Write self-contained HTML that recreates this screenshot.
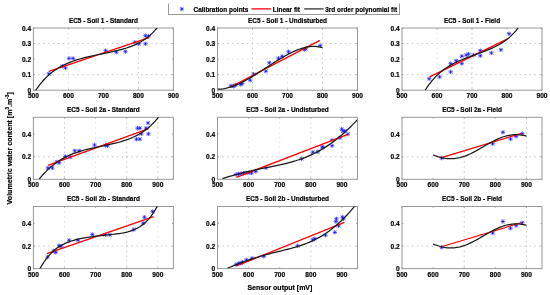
<!DOCTYPE html>
<html><head><meta charset="utf-8"><style>
html,body{margin:0;padding:0;background:#fff;width:550px;height:295px;overflow:hidden}
svg{display:block}
text{font-family:'Liberation Sans',Arial,Helvetica,sans-serif;font-weight:bold;fill:#000;stroke:#000;stroke-width:0.18px}
.tl{font-size:6.6px}
.tt{font-size:6.45px}
.lg{font-size:6.45px}
.al{font-size:7px}
.grid{stroke:#c2c2c2;stroke-width:0.9;stroke-dasharray:1.5 3.4;fill:none}
.gridf{stroke:#e0e0e0;stroke-width:0.9;stroke-dasharray:1.5 3.4;fill:none}
.tick{stroke:#999;stroke-width:0.8}
.box{fill:none;stroke:#999;stroke-width:1}
.bl{fill:none;stroke:#1a1a1a;stroke-width:1.25;stroke-linejoin:round}
.rd{fill:none;stroke:#f00;stroke-width:1.25}
.st{stroke:#33f;stroke-width:0.75;fill:none}
</style></head><body>
<svg width="550" height="295" viewBox="0 0 550 295">
<defs>
<g id="st"><path class="st" d="M-2.2,0H2.2M0,-2.2V2.2M-1.7,-1.7L1.7,1.7M-1.7,1.7L1.7,-1.7"/><circle r="0.7" fill="#11f"/></g>
<clipPath id="c00"><rect x="33.4" y="28" width="140" height="62.2"/></clipPath><clipPath id="c01"><rect x="217.5" y="28" width="140" height="62.2"/></clipPath><clipPath id="c02"><rect x="402" y="28" width="140" height="62.2"/></clipPath><clipPath id="c10"><rect x="33.4" y="117.3" width="140" height="62"/></clipPath><clipPath id="c11"><rect x="217.5" y="117.3" width="140" height="62"/></clipPath><clipPath id="c12"><rect x="402" y="117.3" width="140" height="62"/></clipPath><clipPath id="c20"><rect x="33.4" y="206.5" width="140" height="62.1"/></clipPath><clipPath id="c21"><rect x="217.5" y="206.5" width="140" height="62.1"/></clipPath><clipPath id="c22"><rect x="402" y="206.5" width="140" height="62.1"/></clipPath>
</defs>
<rect width="550" height="295" fill="#fff"/>

<g>
<line x1="168.5" y1="3.6" x2="168.5" y2="15" stroke="#999" stroke-width="1"/>
<line x1="399.5" y1="3.6" x2="399.5" y2="15" stroke="#999" stroke-width="1"/>
<line x1="168" y1="14.5" x2="400" y2="14.5" stroke="#999" stroke-width="1"/>
<use href="#st" x="181.8" y="9"/>
<text x="193.6" y="11.7" class="lg">Calibration points</text>
<line x1="251.5" y1="8.9" x2="270.8" y2="8.9" class="rd" style="stroke-width:1.3"/>
<text x="272.8" y="11.7" class="lg">Linear fit</text>
<line x1="304.2" y1="8.9" x2="323.5" y2="8.9" class="bl" style="stroke-width:1.3;stroke:#333"/>
<text x="325.2" y="11.7" class="lg">3rd order polynomial fit</text>
</g>
<line x1="68.4" y1="28" x2="68.4" y2="90.2" class="gridf"/>
<line x1="138.4" y1="28" x2="138.4" y2="90.2" class="grid"/>
<line x1="33.4" y1="74.65" x2="173.4" y2="74.65" class="grid"/>
<line x1="33.4" y1="43.55" x2="173.4" y2="43.55" class="grid"/>
<line x1="33.4" y1="90.2" x2="33.4" y2="88.8" class="tick"/>
<line x1="33.4" y1="28" x2="33.4" y2="29.4" class="tick"/>
<line x1="68.4" y1="90.2" x2="68.4" y2="88.8" class="tick"/>
<line x1="68.4" y1="28" x2="68.4" y2="29.4" class="tick"/>
<line x1="103.4" y1="90.2" x2="103.4" y2="88.8" class="tick"/>
<line x1="103.4" y1="28" x2="103.4" y2="29.4" class="tick"/>
<line x1="138.4" y1="90.2" x2="138.4" y2="88.8" class="tick"/>
<line x1="138.4" y1="28" x2="138.4" y2="29.4" class="tick"/>
<line x1="173.4" y1="90.2" x2="173.4" y2="88.8" class="tick"/>
<line x1="173.4" y1="28" x2="173.4" y2="29.4" class="tick"/>
<line x1="33.4" y1="90.2" x2="34.8" y2="90.2" class="tick"/>
<line x1="173.4" y1="90.2" x2="172" y2="90.2" class="tick"/>
<line x1="33.4" y1="74.65" x2="34.8" y2="74.65" class="tick"/>
<line x1="173.4" y1="74.65" x2="172" y2="74.65" class="tick"/>
<line x1="33.4" y1="59.1" x2="34.8" y2="59.1" class="tick"/>
<line x1="173.4" y1="59.1" x2="172" y2="59.1" class="tick"/>
<line x1="33.4" y1="43.55" x2="34.8" y2="43.55" class="tick"/>
<line x1="173.4" y1="43.55" x2="172" y2="43.55" class="tick"/>
<line x1="33.4" y1="28" x2="34.8" y2="28" class="tick"/>
<line x1="173.4" y1="28" x2="172" y2="28" class="tick"/>
<rect x="33.4" y="28" width="140" height="62.2" class="box"/>
<g clip-path="url(#c00)">
<use href="#st" x="48.8" y="73.8"/>
<use href="#st" x="62.5" y="66.1"/>
<use href="#st" x="65.4" y="67.9"/>
<use href="#st" x="69" y="58.4"/>
<use href="#st" x="73.1" y="58.4"/>
<use href="#st" x="105.6" y="50.7"/>
<use href="#st" x="116.3" y="52.2"/>
<use href="#st" x="125.4" y="51.6"/>
<use href="#st" x="134.8" y="42.3"/>
<use href="#st" x="138.8" y="43.8"/>
<use href="#st" x="145.4" y="43.8"/>
<use href="#st" x="145.4" y="35.7"/>
<use href="#st" x="148.5" y="36.2"/>
<line x1="48.8" y1="71.4" x2="149" y2="37.7" class="rd"/>
<polyline points="35.3,90.94 37.64,87.5 39.98,84.38 42.32,81.54 44.66,78.96 47,76.62 49.34,74.49 51.68,72.56 54.03,70.8 56.37,69.2 58.71,67.74 61.05,66.41 63.39,65.19 65.73,64.08 68.07,63.05 70.41,62.11 72.75,61.24 75.09,60.43 77.43,59.68 79.77,58.98 82.11,58.32 84.45,57.7 86.79,57.11 89.14,56.55 91.48,56.02 93.82,55.5 96.16,55 98.5,54.51 100.84,54.03 103.18,53.55 105.52,53.08 107.86,52.6 110.2,52.11 112.54,51.6 114.88,51.08 117.22,50.54 119.56,49.96 121.91,49.35 124.25,48.69 126.59,47.98 128.93,47.2 131.27,46.35 133.61,45.42 135.95,44.38 138.29,43.24 140.63,41.97 142.97,40.55 145.31,38.98 147.65,37.23 149.99,35.27 152.33,33.09 154.67,30.67 157.02,27.97 159.36,24.97 161.7,21.64 164.04,17.95 166.38,13.86 168.72,9.34 171.06,4.35 173.4,-1.15" class="bl"/>
</g>
<text x="33.4" y="98.2" class="tl" text-anchor="middle">500</text>
<text x="68.4" y="98.2" class="tl" text-anchor="middle">600</text>
<text x="103.4" y="98.2" class="tl" text-anchor="middle">700</text>
<text x="138.4" y="98.2" class="tl" text-anchor="middle">800</text>
<text x="173.4" y="98.2" class="tl" text-anchor="middle">900</text>
<text x="31.1" y="92.8" class="tl" text-anchor="end">0</text>
<text x="31.1" y="77.25" class="tl" text-anchor="end">0.1</text>
<text x="31.1" y="61.7" class="tl" text-anchor="end">0.2</text>
<text x="31.1" y="46.15" class="tl" text-anchor="end">0.3</text>
<text x="31.1" y="30.6" class="tl" text-anchor="end">0.4</text>
<text x="103.4" y="23.2" class="tt" text-anchor="middle">EC5 - Soil 1 - Standard</text><line x1="252.5" y1="28" x2="252.5" y2="90.2" class="grid"/>
<line x1="287.5" y1="28" x2="287.5" y2="90.2" class="gridf"/>
<line x1="322.5" y1="28" x2="322.5" y2="90.2" class="grid"/>
<line x1="217.5" y1="74.65" x2="357.5" y2="74.65" class="grid"/>
<line x1="217.5" y1="59.1" x2="357.5" y2="59.1" class="gridf"/>
<line x1="217.5" y1="43.55" x2="357.5" y2="43.55" class="grid"/>
<line x1="217.5" y1="90.2" x2="217.5" y2="88.8" class="tick"/>
<line x1="217.5" y1="28" x2="217.5" y2="29.4" class="tick"/>
<line x1="252.5" y1="90.2" x2="252.5" y2="88.8" class="tick"/>
<line x1="252.5" y1="28" x2="252.5" y2="29.4" class="tick"/>
<line x1="287.5" y1="90.2" x2="287.5" y2="88.8" class="tick"/>
<line x1="287.5" y1="28" x2="287.5" y2="29.4" class="tick"/>
<line x1="322.5" y1="90.2" x2="322.5" y2="88.8" class="tick"/>
<line x1="322.5" y1="28" x2="322.5" y2="29.4" class="tick"/>
<line x1="357.5" y1="90.2" x2="357.5" y2="88.8" class="tick"/>
<line x1="357.5" y1="28" x2="357.5" y2="29.4" class="tick"/>
<line x1="217.5" y1="90.2" x2="218.9" y2="90.2" class="tick"/>
<line x1="357.5" y1="90.2" x2="356.1" y2="90.2" class="tick"/>
<line x1="217.5" y1="74.65" x2="218.9" y2="74.65" class="tick"/>
<line x1="357.5" y1="74.65" x2="356.1" y2="74.65" class="tick"/>
<line x1="217.5" y1="59.1" x2="218.9" y2="59.1" class="tick"/>
<line x1="357.5" y1="59.1" x2="356.1" y2="59.1" class="tick"/>
<line x1="217.5" y1="43.55" x2="218.9" y2="43.55" class="tick"/>
<line x1="357.5" y1="43.55" x2="356.1" y2="43.55" class="tick"/>
<line x1="217.5" y1="28" x2="218.9" y2="28" class="tick"/>
<line x1="357.5" y1="28" x2="356.1" y2="28" class="tick"/>
<rect x="217.5" y="28" width="140" height="62.2" class="box"/>
<g clip-path="url(#c01)">
<use href="#st" x="231" y="85.8"/>
<use href="#st" x="233.6" y="86.3"/>
<use href="#st" x="235.4" y="85"/>
<use href="#st" x="240.7" y="84.5"/>
<use href="#st" x="242" y="83.6"/>
<use href="#st" x="250.2" y="80.2"/>
<use href="#st" x="253.6" y="74.1"/>
<use href="#st" x="265.9" y="71.2"/>
<use href="#st" x="269.3" y="62.75"/>
<use href="#st" x="278.5" y="58.2"/>
<use href="#st" x="282.2" y="56.3"/>
<use href="#st" x="288.5" y="51.8"/>
<use href="#st" x="304.4" y="49.6"/>
<use href="#st" x="305.7" y="48.7"/>
<use href="#st" x="320.2" y="45.7"/>
<line x1="230.5" y1="87.1" x2="319.8" y2="40.4" class="rd"/>
<polyline points="217.5,89.15 219.28,89.12 221.06,89.01 222.83,88.81 224.61,88.52 226.39,88.16 228.17,87.72 229.95,87.22 231.72,86.65 233.5,86.02 235.28,85.33 237.06,84.58 238.84,83.79 240.61,82.95 242.39,82.07 244.17,81.15 245.95,80.2 247.73,79.2 249.5,78.18 251.28,77.14 253.06,76.07 254.84,74.97 256.62,73.86 258.39,72.74 260.17,71.6 261.95,70.45 263.73,69.3 265.51,68.14 267.28,66.98 269.06,65.82 270.84,64.67 272.62,63.52 274.39,62.38 276.17,61.26 277.95,60.15 279.73,59.06 281.51,57.99 283.28,56.95 285.06,55.93 286.84,54.95 288.62,54 290.4,53.09 292.17,52.22 293.95,51.39 295.73,50.62 297.51,49.89 299.29,49.22 301.06,48.62 302.84,48.07 304.62,47.6 306.4,47.2 308.18,46.87 309.95,46.63 311.73,46.48 313.51,46.42 315.29,46.46 317.07,46.61 318.84,46.86 320.62,47.23 322.4,47.72" class="bl"/>
</g>
<text x="217.5" y="98.2" class="tl" text-anchor="middle">500</text>
<text x="252.5" y="98.2" class="tl" text-anchor="middle">600</text>
<text x="287.5" y="98.2" class="tl" text-anchor="middle">700</text>
<text x="322.5" y="98.2" class="tl" text-anchor="middle">800</text>
<text x="357.5" y="98.2" class="tl" text-anchor="middle">900</text>
<text x="215.2" y="92.8" class="tl" text-anchor="end">0</text>
<text x="215.2" y="77.25" class="tl" text-anchor="end">0.1</text>
<text x="215.2" y="61.7" class="tl" text-anchor="end">0.2</text>
<text x="215.2" y="46.15" class="tl" text-anchor="end">0.3</text>
<text x="215.2" y="30.6" class="tl" text-anchor="end">0.4</text>
<text x="287.5" y="23.2" class="tt" text-anchor="middle">EC5 - Soil 1 - Undisturbed</text><line x1="437" y1="28" x2="437" y2="90.2" class="gridf"/>
<line x1="472" y1="28" x2="472" y2="90.2" class="grid"/>
<line x1="402" y1="74.65" x2="542" y2="74.65" class="grid"/>
<line x1="402" y1="43.55" x2="542" y2="43.55" class="grid"/>
<line x1="402" y1="90.2" x2="402" y2="88.8" class="tick"/>
<line x1="402" y1="28" x2="402" y2="29.4" class="tick"/>
<line x1="437" y1="90.2" x2="437" y2="88.8" class="tick"/>
<line x1="437" y1="28" x2="437" y2="29.4" class="tick"/>
<line x1="472" y1="90.2" x2="472" y2="88.8" class="tick"/>
<line x1="472" y1="28" x2="472" y2="29.4" class="tick"/>
<line x1="507" y1="90.2" x2="507" y2="88.8" class="tick"/>
<line x1="507" y1="28" x2="507" y2="29.4" class="tick"/>
<line x1="542" y1="90.2" x2="542" y2="88.8" class="tick"/>
<line x1="542" y1="28" x2="542" y2="29.4" class="tick"/>
<line x1="402" y1="90.2" x2="403.4" y2="90.2" class="tick"/>
<line x1="542" y1="90.2" x2="540.6" y2="90.2" class="tick"/>
<line x1="402" y1="74.65" x2="403.4" y2="74.65" class="tick"/>
<line x1="542" y1="74.65" x2="540.6" y2="74.65" class="tick"/>
<line x1="402" y1="59.1" x2="403.4" y2="59.1" class="tick"/>
<line x1="542" y1="59.1" x2="540.6" y2="59.1" class="tick"/>
<line x1="402" y1="43.55" x2="403.4" y2="43.55" class="tick"/>
<line x1="542" y1="43.55" x2="540.6" y2="43.55" class="tick"/>
<line x1="402" y1="28" x2="403.4" y2="28" class="tick"/>
<line x1="542" y1="28" x2="540.6" y2="28" class="tick"/>
<rect x="402" y="28" width="140" height="62.2" class="box"/>
<g clip-path="url(#c02)">
<use href="#st" x="429.1" y="78.8"/>
<use href="#st" x="439.6" y="76.9"/>
<use href="#st" x="450.6" y="71.9"/>
<use href="#st" x="450.6" y="63.6"/>
<use href="#st" x="456.2" y="60.7"/>
<use href="#st" x="461.8" y="63.6"/>
<use href="#st" x="461.8" y="56.2"/>
<use href="#st" x="466.2" y="55.1"/>
<use href="#st" x="468.5" y="54"/>
<use href="#st" x="473.6" y="55.1"/>
<use href="#st" x="480.3" y="50.6"/>
<use href="#st" x="480.3" y="55.8"/>
<use href="#st" x="491.4" y="52.9"/>
<use href="#st" x="500.9" y="49.8"/>
<use href="#st" x="509" y="33.7"/>
<line x1="429.6" y1="76.9" x2="507.6" y2="38.91" class="rd"/>
<polyline points="425,90.49 426.78,87.72 428.56,85.16 430.34,82.79 432.12,80.59 433.9,78.56 435.68,76.67 437.46,74.92 439.24,73.29 441.02,71.78 442.8,70.37 444.58,69.06 446.36,67.83 448.14,66.68 449.92,65.6 451.69,64.59 453.47,63.63 455.25,62.73 457.03,61.87 458.81,61.05 460.59,60.26 462.37,59.51 464.15,58.79 465.93,58.09 467.71,57.41 469.49,56.74 471.27,56.09 473.05,55.44 474.83,54.8 476.61,54.17 478.39,53.53 480.17,52.88 481.95,52.23 483.73,51.56 485.51,50.88 487.29,50.17 489.07,49.44 490.85,48.68 492.63,47.88 494.41,47.04 496.19,46.15 497.97,45.2 499.75,44.19 501.53,43.12 503.31,41.96 505.08,40.72 506.86,39.38 508.64,37.93 510.42,36.36 512.2,34.67 513.98,32.83 515.76,30.83 517.54,28.67 519.32,26.31 521.1,23.76 522.88,20.98 524.66,17.96 526.44,14.69 528.22,11.14 530,7.28" class="bl"/>
</g>
<text x="402" y="98.2" class="tl" text-anchor="middle">500</text>
<text x="437" y="98.2" class="tl" text-anchor="middle">600</text>
<text x="472" y="98.2" class="tl" text-anchor="middle">700</text>
<text x="507" y="98.2" class="tl" text-anchor="middle">800</text>
<text x="542" y="98.2" class="tl" text-anchor="middle">900</text>
<text x="399.7" y="92.8" class="tl" text-anchor="end">0</text>
<text x="399.7" y="77.25" class="tl" text-anchor="end">0.1</text>
<text x="399.7" y="61.7" class="tl" text-anchor="end">0.2</text>
<text x="399.7" y="46.15" class="tl" text-anchor="end">0.3</text>
<text x="399.7" y="30.6" class="tl" text-anchor="end">0.4</text>
<text x="472" y="23.2" class="tt" text-anchor="middle">EC5 - Soil 1 - Field</text><line x1="64.51" y1="117.3" x2="64.51" y2="179.3" class="grid"/>
<line x1="95.62" y1="117.3" x2="95.62" y2="179.3" class="gridf"/>
<line x1="126.73" y1="117.3" x2="126.73" y2="179.3" class="grid"/>
<line x1="157.84" y1="117.3" x2="157.84" y2="179.3" class="grid"/>
<line x1="33.4" y1="156.75" x2="173.4" y2="156.75" class="grid"/>
<line x1="33.4" y1="179.3" x2="33.4" y2="177.9" class="tick"/>
<line x1="33.4" y1="117.3" x2="33.4" y2="118.7" class="tick"/>
<line x1="64.51" y1="179.3" x2="64.51" y2="177.9" class="tick"/>
<line x1="64.51" y1="117.3" x2="64.51" y2="118.7" class="tick"/>
<line x1="95.62" y1="179.3" x2="95.62" y2="177.9" class="tick"/>
<line x1="95.62" y1="117.3" x2="95.62" y2="118.7" class="tick"/>
<line x1="126.73" y1="179.3" x2="126.73" y2="177.9" class="tick"/>
<line x1="126.73" y1="117.3" x2="126.73" y2="118.7" class="tick"/>
<line x1="157.84" y1="179.3" x2="157.84" y2="177.9" class="tick"/>
<line x1="157.84" y1="117.3" x2="157.84" y2="118.7" class="tick"/>
<line x1="33.4" y1="179.3" x2="34.8" y2="179.3" class="tick"/>
<line x1="173.4" y1="179.3" x2="172" y2="179.3" class="tick"/>
<line x1="33.4" y1="156.75" x2="34.8" y2="156.75" class="tick"/>
<line x1="173.4" y1="156.75" x2="172" y2="156.75" class="tick"/>
<line x1="33.4" y1="134.21" x2="34.8" y2="134.21" class="tick"/>
<line x1="173.4" y1="134.21" x2="172" y2="134.21" class="tick"/>
<rect x="33.4" y="117.3" width="140" height="62" class="box"/>
<g clip-path="url(#c10)">
<use href="#st" x="47.9" y="168"/>
<use href="#st" x="52.4" y="168"/>
<use href="#st" x="56.8" y="162"/>
<use href="#st" x="59.1" y="162.7"/>
<use href="#st" x="65.3" y="156.4"/>
<use href="#st" x="70.3" y="157.1"/>
<use href="#st" x="74.7" y="150.8"/>
<use href="#st" x="79.2" y="150.8"/>
<use href="#st" x="94.5" y="145"/>
<use href="#st" x="105.5" y="145.4"/>
<use href="#st" x="107.5" y="145.8"/>
<use href="#st" x="137.5" y="128.2"/>
<use href="#st" x="139.9" y="128.2"/>
<use href="#st" x="146" y="128.2"/>
<use href="#st" x="148" y="123"/>
<use href="#st" x="148.4" y="133.9"/>
<use href="#st" x="141.3" y="133.9"/>
<use href="#st" x="136.5" y="139.2"/>
<use href="#st" x="139.9" y="139.2"/>
<line x1="47.9" y1="165.3" x2="148.6" y2="128.7" class="rd"/>
<polyline points="39,179.48 41.28,176.65 43.56,174.03 45.83,171.61 48.11,169.37 50.39,167.31 52.67,165.4 54.95,163.64 57.22,162.01 59.5,160.52 61.78,159.14 64.06,157.86 66.34,156.69 68.61,155.61 70.89,154.61 73.17,153.68 75.45,152.83 77.73,152.04 80,151.31 82.28,150.63 84.56,149.99 86.84,149.39 89.12,148.83 91.39,148.3 93.67,147.79 95.95,147.29 98.23,146.82 100.51,146.35 102.78,145.88 105.06,145.42 107.34,144.94 109.62,144.46 111.89,143.95 114.17,143.42 116.45,142.87 118.73,142.27 121.01,141.64 123.28,140.95 125.56,140.21 127.84,139.4 130.12,138.52 132.4,137.55 134.67,136.5 136.95,135.34 139.23,134.07 141.51,132.69 143.79,131.16 146.06,129.49 148.34,127.67 150.62,125.66 152.9,123.48 155.18,121.09 157.45,118.48 159.73,115.63 162.01,112.53 164.29,109.16 166.57,105.49 168.84,101.51 171.12,97.2 173.4,92.52" class="bl"/>
</g>
<text x="33.4" y="187.3" class="tl" text-anchor="middle">500</text>
<text x="64.51" y="187.3" class="tl" text-anchor="middle">600</text>
<text x="95.62" y="187.3" class="tl" text-anchor="middle">700</text>
<text x="126.73" y="187.3" class="tl" text-anchor="middle">800</text>
<text x="157.84" y="187.3" class="tl" text-anchor="middle">900</text>
<text x="31.1" y="181.9" class="tl" text-anchor="end">0</text>
<text x="31.1" y="159.35" class="tl" text-anchor="end">0.2</text>
<text x="31.1" y="136.81" class="tl" text-anchor="end">0.4</text>
<text x="103.4" y="112.1" class="tt" text-anchor="middle">EC5 - Soil 2a - Standard</text><line x1="248.61" y1="117.3" x2="248.61" y2="179.3" class="gridf"/>
<line x1="279.72" y1="117.3" x2="279.72" y2="179.3" class="gridf"/>
<line x1="310.83" y1="117.3" x2="310.83" y2="179.3" class="grid"/>
<line x1="341.94" y1="117.3" x2="341.94" y2="179.3" class="grid"/>
<line x1="217.5" y1="156.75" x2="357.5" y2="156.75" class="grid"/>
<line x1="217.5" y1="179.3" x2="217.5" y2="177.9" class="tick"/>
<line x1="217.5" y1="117.3" x2="217.5" y2="118.7" class="tick"/>
<line x1="248.61" y1="179.3" x2="248.61" y2="177.9" class="tick"/>
<line x1="248.61" y1="117.3" x2="248.61" y2="118.7" class="tick"/>
<line x1="279.72" y1="179.3" x2="279.72" y2="177.9" class="tick"/>
<line x1="279.72" y1="117.3" x2="279.72" y2="118.7" class="tick"/>
<line x1="310.83" y1="179.3" x2="310.83" y2="177.9" class="tick"/>
<line x1="310.83" y1="117.3" x2="310.83" y2="118.7" class="tick"/>
<line x1="341.94" y1="179.3" x2="341.94" y2="177.9" class="tick"/>
<line x1="341.94" y1="117.3" x2="341.94" y2="118.7" class="tick"/>
<line x1="217.5" y1="179.3" x2="218.9" y2="179.3" class="tick"/>
<line x1="357.5" y1="179.3" x2="356.1" y2="179.3" class="tick"/>
<line x1="217.5" y1="156.75" x2="218.9" y2="156.75" class="tick"/>
<line x1="357.5" y1="156.75" x2="356.1" y2="156.75" class="tick"/>
<line x1="217.5" y1="134.21" x2="218.9" y2="134.21" class="tick"/>
<line x1="357.5" y1="134.21" x2="356.1" y2="134.21" class="tick"/>
<rect x="217.5" y="117.3" width="140" height="62" class="box"/>
<g clip-path="url(#c11)">
<use href="#st" x="236" y="174.5"/>
<use href="#st" x="238.5" y="174"/>
<use href="#st" x="241" y="173.6"/>
<use href="#st" x="243.5" y="173.3"/>
<use href="#st" x="246" y="173"/>
<use href="#st" x="249" y="172.7"/>
<use href="#st" x="251.6" y="173"/>
<use href="#st" x="255.7" y="171.4"/>
<use href="#st" x="265.9" y="167.8"/>
<use href="#st" x="301.6" y="158.8"/>
<use href="#st" x="312.8" y="152.2"/>
<use href="#st" x="317.9" y="151.7"/>
<use href="#st" x="323" y="147.6"/>
<use href="#st" x="322.2" y="146.9"/>
<use href="#st" x="332" y="140.2"/>
<use href="#st" x="332" y="145.7"/>
<use href="#st" x="339.9" y="137.8"/>
<use href="#st" x="341.7" y="129.2"/>
<use href="#st" x="342.9" y="131.1"/>
<use href="#st" x="344.8" y="131.1"/>
<use href="#st" x="347.8" y="134.1"/>
<line x1="236.3" y1="177.3" x2="347.2" y2="134.7" class="rd"/>
<polyline points="222.5,178.62 224.79,177.89 227.08,177.17 229.36,176.47 231.65,175.79 233.94,175.13 236.23,174.49 238.52,173.88 240.81,173.28 243.09,172.7 245.38,172.14 247.67,171.6 249.96,171.08 252.25,170.57 254.53,170.07 256.82,169.59 259.11,169.12 261.4,168.65 263.69,168.19 265.97,167.74 268.26,167.28 270.55,166.82 272.84,166.35 275.13,165.88 277.42,165.4 279.7,164.9 281.99,164.38 284.28,163.84 286.57,163.28 288.86,162.69 291.14,162.07 293.43,161.42 295.72,160.73 298.01,160 300.3,159.23 302.58,158.41 304.87,157.55 307.16,156.63 309.45,155.66 311.74,154.63 314.03,153.54 316.31,152.38 318.6,151.17 320.89,149.89 323.18,148.54 325.47,147.12 327.75,145.63 330.04,144.07 332.33,142.44 334.62,140.73 336.91,138.95 339.19,137.09 341.48,135.16 343.77,133.16 346.06,131.08 348.35,128.93 350.64,126.71 352.92,124.43 355.21,122.07 357.5,119.65" class="bl"/>
</g>
<text x="217.5" y="187.3" class="tl" text-anchor="middle">500</text>
<text x="248.61" y="187.3" class="tl" text-anchor="middle">600</text>
<text x="279.72" y="187.3" class="tl" text-anchor="middle">700</text>
<text x="310.83" y="187.3" class="tl" text-anchor="middle">800</text>
<text x="341.94" y="187.3" class="tl" text-anchor="middle">900</text>
<text x="215.2" y="181.9" class="tl" text-anchor="end">0</text>
<text x="215.2" y="159.35" class="tl" text-anchor="end">0.2</text>
<text x="215.2" y="136.81" class="tl" text-anchor="end">0.4</text>
<text x="287.5" y="112.1" class="tt" text-anchor="middle">EC5 - Soil 2a - Undisturbed</text><line x1="464.22" y1="117.3" x2="464.22" y2="179.3" class="grid"/>
<line x1="526.44" y1="117.3" x2="526.44" y2="179.3" class="grid"/>
<line x1="402" y1="156.75" x2="542" y2="156.75" class="grid"/>
<line x1="402" y1="179.3" x2="402" y2="177.9" class="tick"/>
<line x1="402" y1="117.3" x2="402" y2="118.7" class="tick"/>
<line x1="433.11" y1="179.3" x2="433.11" y2="177.9" class="tick"/>
<line x1="433.11" y1="117.3" x2="433.11" y2="118.7" class="tick"/>
<line x1="464.22" y1="179.3" x2="464.22" y2="177.9" class="tick"/>
<line x1="464.22" y1="117.3" x2="464.22" y2="118.7" class="tick"/>
<line x1="495.33" y1="179.3" x2="495.33" y2="177.9" class="tick"/>
<line x1="495.33" y1="117.3" x2="495.33" y2="118.7" class="tick"/>
<line x1="526.44" y1="179.3" x2="526.44" y2="177.9" class="tick"/>
<line x1="526.44" y1="117.3" x2="526.44" y2="118.7" class="tick"/>
<line x1="402" y1="179.3" x2="403.4" y2="179.3" class="tick"/>
<line x1="542" y1="179.3" x2="540.6" y2="179.3" class="tick"/>
<line x1="402" y1="156.75" x2="403.4" y2="156.75" class="tick"/>
<line x1="542" y1="156.75" x2="540.6" y2="156.75" class="tick"/>
<line x1="402" y1="134.21" x2="403.4" y2="134.21" class="tick"/>
<line x1="542" y1="134.21" x2="540.6" y2="134.21" class="tick"/>
<rect x="402" y="117.3" width="140" height="62" class="box"/>
<g clip-path="url(#c12)">
<use href="#st" x="441.7" y="158.1"/>
<use href="#st" x="492.7" y="143.8"/>
<use href="#st" x="502.9" y="132.3"/>
<use href="#st" x="510.5" y="139"/>
<use href="#st" x="516.1" y="136.4"/>
<use href="#st" x="522.2" y="133.6"/>
<line x1="442.3" y1="157.3" x2="521.7" y2="133.3" class="rd"/>
<polyline points="433.1,154.95 434.68,155.51 436.27,156.05 437.85,156.56 439.43,157.03 441.02,157.45 442.6,157.81 444.18,158.12 445.76,158.37 447.35,158.56 448.93,158.68 450.51,158.73 452.1,158.71 453.68,158.63 455.26,158.47 456.85,158.25 458.43,157.95 460.01,157.6 461.59,157.17 463.18,156.69 464.76,156.15 466.34,155.55 467.93,154.9 469.51,154.2 471.09,153.45 472.68,152.67 474.26,151.85 475.84,151.01 477.43,150.13 479.01,149.24 480.59,148.33 482.17,147.42 483.76,146.5 485.34,145.58 486.92,144.66 488.51,143.76 490.09,142.88 491.67,142.02 493.26,141.18 494.84,140.38 496.42,139.62 498.01,138.9 499.59,138.22 501.17,137.59 502.75,137.02 504.34,136.5 505.92,136.05 507.5,135.65 509.09,135.32 510.67,135.06 512.25,134.87 513.84,134.74 515.42,134.68 517,134.7 518.58,134.78 520.17,134.92 521.75,135.13 523.33,135.4 524.92,135.73 526.5,136.11" class="bl"/>
</g>
<text x="402" y="187.3" class="tl" text-anchor="middle">500</text>
<text x="433.11" y="187.3" class="tl" text-anchor="middle">600</text>
<text x="464.22" y="187.3" class="tl" text-anchor="middle">700</text>
<text x="495.33" y="187.3" class="tl" text-anchor="middle">800</text>
<text x="526.44" y="187.3" class="tl" text-anchor="middle">900</text>
<text x="399.7" y="181.9" class="tl" text-anchor="end">0</text>
<text x="399.7" y="159.35" class="tl" text-anchor="end">0.2</text>
<text x="399.7" y="136.81" class="tl" text-anchor="end">0.4</text>
<text x="472" y="112.1" class="tt" text-anchor="middle">EC5 - Soil 2a - Field</text><line x1="64.51" y1="206.5" x2="64.51" y2="268.6" class="gridf"/>
<line x1="126.73" y1="206.5" x2="126.73" y2="268.6" class="grid"/>
<line x1="157.84" y1="206.5" x2="157.84" y2="268.6" class="gridf"/>
<line x1="33.4" y1="246.02" x2="173.4" y2="246.02" class="grid"/>
<line x1="33.4" y1="268.6" x2="33.4" y2="267.2" class="tick"/>
<line x1="33.4" y1="206.5" x2="33.4" y2="207.9" class="tick"/>
<line x1="64.51" y1="268.6" x2="64.51" y2="267.2" class="tick"/>
<line x1="64.51" y1="206.5" x2="64.51" y2="207.9" class="tick"/>
<line x1="95.62" y1="268.6" x2="95.62" y2="267.2" class="tick"/>
<line x1="95.62" y1="206.5" x2="95.62" y2="207.9" class="tick"/>
<line x1="126.73" y1="268.6" x2="126.73" y2="267.2" class="tick"/>
<line x1="126.73" y1="206.5" x2="126.73" y2="207.9" class="tick"/>
<line x1="157.84" y1="268.6" x2="157.84" y2="267.2" class="tick"/>
<line x1="157.84" y1="206.5" x2="157.84" y2="207.9" class="tick"/>
<line x1="33.4" y1="268.6" x2="34.8" y2="268.6" class="tick"/>
<line x1="173.4" y1="268.6" x2="172" y2="268.6" class="tick"/>
<line x1="33.4" y1="246.02" x2="34.8" y2="246.02" class="tick"/>
<line x1="173.4" y1="246.02" x2="172" y2="246.02" class="tick"/>
<line x1="33.4" y1="223.44" x2="34.8" y2="223.44" class="tick"/>
<line x1="173.4" y1="223.44" x2="172" y2="223.44" class="tick"/>
<rect x="33.4" y="206.5" width="140" height="62.1" class="box"/>
<g clip-path="url(#c20)">
<use href="#st" x="47.5" y="257.1"/>
<use href="#st" x="53.6" y="251"/>
<use href="#st" x="55.7" y="252.4"/>
<use href="#st" x="59.1" y="245.6"/>
<use href="#st" x="61.1" y="246.3"/>
<use href="#st" x="69.2" y="240.2"/>
<use href="#st" x="78" y="240.2"/>
<use href="#st" x="92.3" y="234.5"/>
<use href="#st" x="105.3" y="234.8"/>
<use href="#st" x="109.9" y="234.8"/>
<use href="#st" x="133.8" y="229.5"/>
<use href="#st" x="143.2" y="223.2"/>
<use href="#st" x="144.4" y="217.2"/>
<use href="#st" x="152.6" y="211.6"/>
<line x1="46.8" y1="253.7" x2="153.6" y2="216.7" class="rd"/>
<polyline points="39.6,269.34 41.87,265.31 44.14,261.74 46.4,258.59 48.67,255.8 50.94,253.34 53.21,251.18 55.47,249.27 57.74,247.6 60.01,246.12 62.28,244.83 64.55,243.69 66.81,242.69 69.08,241.8 71.35,241.02 73.62,240.32 75.88,239.71 78.15,239.15 80.42,238.65 82.69,238.21 84.96,237.8 87.22,237.43 89.49,237.08 91.76,236.77 94.03,236.48 96.29,236.2 98.56,235.94 100.83,235.7 103.1,235.46 105.37,235.22 107.63,234.99 109.9,234.75 112.17,234.5 114.44,234.23 116.71,233.94 118.97,233.62 121.24,233.25 123.51,232.83 125.78,232.34 128.04,231.77 130.31,231.1 132.58,230.3 134.85,229.37 137.12,228.28 139.38,226.99 141.65,225.49 143.92,223.73 146.19,221.68 148.45,219.31 150.72,216.57 152.99,213.42 155.26,209.81 157.53,205.69 159.79,200.99 162.06,195.67 164.33,189.65 166.6,182.86 168.86,175.24 171.13,166.69 173.4,157.15" class="bl"/>
</g>
<text x="33.4" y="276.6" class="tl" text-anchor="middle">500</text>
<text x="64.51" y="276.6" class="tl" text-anchor="middle">600</text>
<text x="95.62" y="276.6" class="tl" text-anchor="middle">700</text>
<text x="126.73" y="276.6" class="tl" text-anchor="middle">800</text>
<text x="157.84" y="276.6" class="tl" text-anchor="middle">900</text>
<text x="31.1" y="271.2" class="tl" text-anchor="end">0</text>
<text x="31.1" y="248.62" class="tl" text-anchor="end">0.2</text>
<text x="31.1" y="226.04" class="tl" text-anchor="end">0.4</text>
<text x="103.4" y="201.3" class="tt" text-anchor="middle">EC5 - Soil 2b - Standard</text><line x1="248.61" y1="206.5" x2="248.61" y2="268.6" class="gridf"/>
<line x1="310.83" y1="206.5" x2="310.83" y2="268.6" class="grid"/>
<line x1="217.5" y1="246.02" x2="357.5" y2="246.02" class="grid"/>
<line x1="217.5" y1="268.6" x2="217.5" y2="267.2" class="tick"/>
<line x1="217.5" y1="206.5" x2="217.5" y2="207.9" class="tick"/>
<line x1="248.61" y1="268.6" x2="248.61" y2="267.2" class="tick"/>
<line x1="248.61" y1="206.5" x2="248.61" y2="207.9" class="tick"/>
<line x1="279.72" y1="268.6" x2="279.72" y2="267.2" class="tick"/>
<line x1="279.72" y1="206.5" x2="279.72" y2="207.9" class="tick"/>
<line x1="310.83" y1="268.6" x2="310.83" y2="267.2" class="tick"/>
<line x1="310.83" y1="206.5" x2="310.83" y2="207.9" class="tick"/>
<line x1="341.94" y1="268.6" x2="341.94" y2="267.2" class="tick"/>
<line x1="341.94" y1="206.5" x2="341.94" y2="207.9" class="tick"/>
<line x1="217.5" y1="268.6" x2="218.9" y2="268.6" class="tick"/>
<line x1="357.5" y1="268.6" x2="356.1" y2="268.6" class="tick"/>
<line x1="217.5" y1="246.02" x2="218.9" y2="246.02" class="tick"/>
<line x1="357.5" y1="246.02" x2="356.1" y2="246.02" class="tick"/>
<line x1="217.5" y1="223.44" x2="218.9" y2="223.44" class="tick"/>
<line x1="357.5" y1="223.44" x2="356.1" y2="223.44" class="tick"/>
<rect x="217.5" y="206.5" width="140" height="62.1" class="box"/>
<g clip-path="url(#c21)">
<use href="#st" x="236" y="264.5"/>
<use href="#st" x="238.5" y="263.5"/>
<use href="#st" x="241" y="263"/>
<use href="#st" x="242.4" y="262.2"/>
<use href="#st" x="246.4" y="259.9"/>
<use href="#st" x="252" y="258.3"/>
<use href="#st" x="263.8" y="256.3"/>
<use href="#st" x="297.5" y="245.9"/>
<use href="#st" x="312.8" y="239.7"/>
<use href="#st" x="314.8" y="238.7"/>
<use href="#st" x="325.5" y="235.2"/>
<use href="#st" x="334.8" y="232.4"/>
<use href="#st" x="336.4" y="218.8"/>
<use href="#st" x="335.9" y="221.6"/>
<use href="#st" x="342.4" y="217.2"/>
<use href="#st" x="343.5" y="218.8"/>
<use href="#st" x="338.6" y="225.9"/>
<line x1="236.3" y1="266" x2="344.3" y2="222.3" class="rd"/>
<polyline points="227.6,268.11 229.8,267.24 232,266.36 234.21,265.49 236.41,264.62 238.61,263.75 240.81,262.9 243.01,262.07 245.21,261.25 247.42,260.45 249.62,259.68 251.82,258.93 254.02,258.2 256.22,257.5 258.42,256.83 260.63,256.17 262.83,255.54 265.03,254.93 267.23,254.34 269.43,253.77 271.63,253.21 273.84,252.66 276.04,252.12 278.24,251.58 280.44,251.05 282.64,250.51 284.84,249.97 287.05,249.42 289.25,248.85 291.45,248.27 293.65,247.66 295.85,247.02 298.05,246.35 300.26,245.64 302.46,244.9 304.66,244.1 306.86,243.26 309.06,242.36 311.26,241.4 313.47,240.38 315.67,239.3 317.87,238.14 320.07,236.91 322.27,235.6 324.47,234.21 326.68,232.74 328.88,231.18 331.08,229.54 333.28,227.8 335.48,225.98 337.68,224.06 339.89,222.05 342.09,219.94 344.29,217.74 346.49,215.45 348.69,213.07 350.89,210.6 353.1,208.04 355.3,205.4 357.5,202.68" class="bl"/>
</g>
<text x="217.5" y="276.6" class="tl" text-anchor="middle">500</text>
<text x="248.61" y="276.6" class="tl" text-anchor="middle">600</text>
<text x="279.72" y="276.6" class="tl" text-anchor="middle">700</text>
<text x="310.83" y="276.6" class="tl" text-anchor="middle">800</text>
<text x="341.94" y="276.6" class="tl" text-anchor="middle">900</text>
<text x="215.2" y="271.2" class="tl" text-anchor="end">0</text>
<text x="215.2" y="248.62" class="tl" text-anchor="end">0.2</text>
<text x="215.2" y="226.04" class="tl" text-anchor="end">0.4</text>
<text x="287.5" y="201.3" class="tt" text-anchor="middle">EC5 - Soil 2b - Undisturbed</text><line x1="464.22" y1="206.5" x2="464.22" y2="268.6" class="grid"/>
<line x1="526.44" y1="206.5" x2="526.44" y2="268.6" class="grid"/>
<line x1="402" y1="246.02" x2="542" y2="246.02" class="grid"/>
<line x1="402" y1="268.6" x2="402" y2="267.2" class="tick"/>
<line x1="402" y1="206.5" x2="402" y2="207.9" class="tick"/>
<line x1="433.11" y1="268.6" x2="433.11" y2="267.2" class="tick"/>
<line x1="433.11" y1="206.5" x2="433.11" y2="207.9" class="tick"/>
<line x1="464.22" y1="268.6" x2="464.22" y2="267.2" class="tick"/>
<line x1="464.22" y1="206.5" x2="464.22" y2="207.9" class="tick"/>
<line x1="495.33" y1="268.6" x2="495.33" y2="267.2" class="tick"/>
<line x1="495.33" y1="206.5" x2="495.33" y2="207.9" class="tick"/>
<line x1="526.44" y1="268.6" x2="526.44" y2="267.2" class="tick"/>
<line x1="526.44" y1="206.5" x2="526.44" y2="207.9" class="tick"/>
<line x1="402" y1="268.6" x2="403.4" y2="268.6" class="tick"/>
<line x1="542" y1="268.6" x2="540.6" y2="268.6" class="tick"/>
<line x1="402" y1="246.02" x2="403.4" y2="246.02" class="tick"/>
<line x1="542" y1="246.02" x2="540.6" y2="246.02" class="tick"/>
<line x1="402" y1="223.44" x2="403.4" y2="223.44" class="tick"/>
<line x1="542" y1="223.44" x2="540.6" y2="223.44" class="tick"/>
<rect x="402" y="206.5" width="140" height="62.1" class="box"/>
<g clip-path="url(#c22)">
<use href="#st" x="441.7" y="247.3"/>
<use href="#st" x="492.7" y="233"/>
<use href="#st" x="502.9" y="221.5"/>
<use href="#st" x="510.5" y="228.2"/>
<use href="#st" x="516.1" y="225.6"/>
<use href="#st" x="522.2" y="222.8"/>
<line x1="442.3" y1="246.5" x2="521.7" y2="222.5" class="rd"/>
<polyline points="433.1,244.15 434.68,244.71 436.27,245.25 437.85,245.76 439.43,246.23 441.02,246.65 442.6,247.01 444.18,247.32 445.76,247.57 447.35,247.76 448.93,247.88 450.51,247.93 452.1,247.91 453.68,247.83 455.26,247.67 456.85,247.45 458.43,247.15 460.01,246.8 461.59,246.37 463.18,245.89 464.76,245.35 466.34,244.75 467.93,244.1 469.51,243.4 471.09,242.65 472.68,241.87 474.26,241.05 475.84,240.21 477.43,239.33 479.01,238.44 480.59,237.53 482.17,236.62 483.76,235.7 485.34,234.78 486.92,233.86 488.51,232.96 490.09,232.08 491.67,231.22 493.26,230.38 494.84,229.58 496.42,228.82 498.01,228.1 499.59,227.42 501.17,226.79 502.75,226.22 504.34,225.7 505.92,225.25 507.5,224.85 509.09,224.52 510.67,224.26 512.25,224.07 513.84,223.94 515.42,223.88 517,223.9 518.58,223.98 520.17,224.12 521.75,224.33 523.33,224.6 524.92,224.93 526.5,225.31" class="bl"/>
</g>
<text x="402" y="276.6" class="tl" text-anchor="middle">500</text>
<text x="433.11" y="276.6" class="tl" text-anchor="middle">600</text>
<text x="464.22" y="276.6" class="tl" text-anchor="middle">700</text>
<text x="495.33" y="276.6" class="tl" text-anchor="middle">800</text>
<text x="526.44" y="276.6" class="tl" text-anchor="middle">900</text>
<text x="399.7" y="271.2" class="tl" text-anchor="end">0</text>
<text x="399.7" y="248.62" class="tl" text-anchor="end">0.2</text>
<text x="399.7" y="226.04" class="tl" text-anchor="end">0.4</text>
<text x="472" y="201.3" class="tt" text-anchor="middle">EC5 - Soil 2b - Field</text>

<text x="279.9" y="290.1" class="al" text-anchor="middle">Sensor output [mV]</text>
<text transform="translate(11.6,148.3) rotate(-90)" class="al" style="font-size:7.1px" text-anchor="middle">Volumetric water content [m<tspan dy="-2.7" font-size="4.6">3</tspan><tspan dy="2.7">.m</tspan><tspan dy="-2.7" font-size="4.6">-3</tspan><tspan dy="2.7">]</tspan></text>

</svg>
</body></html>
